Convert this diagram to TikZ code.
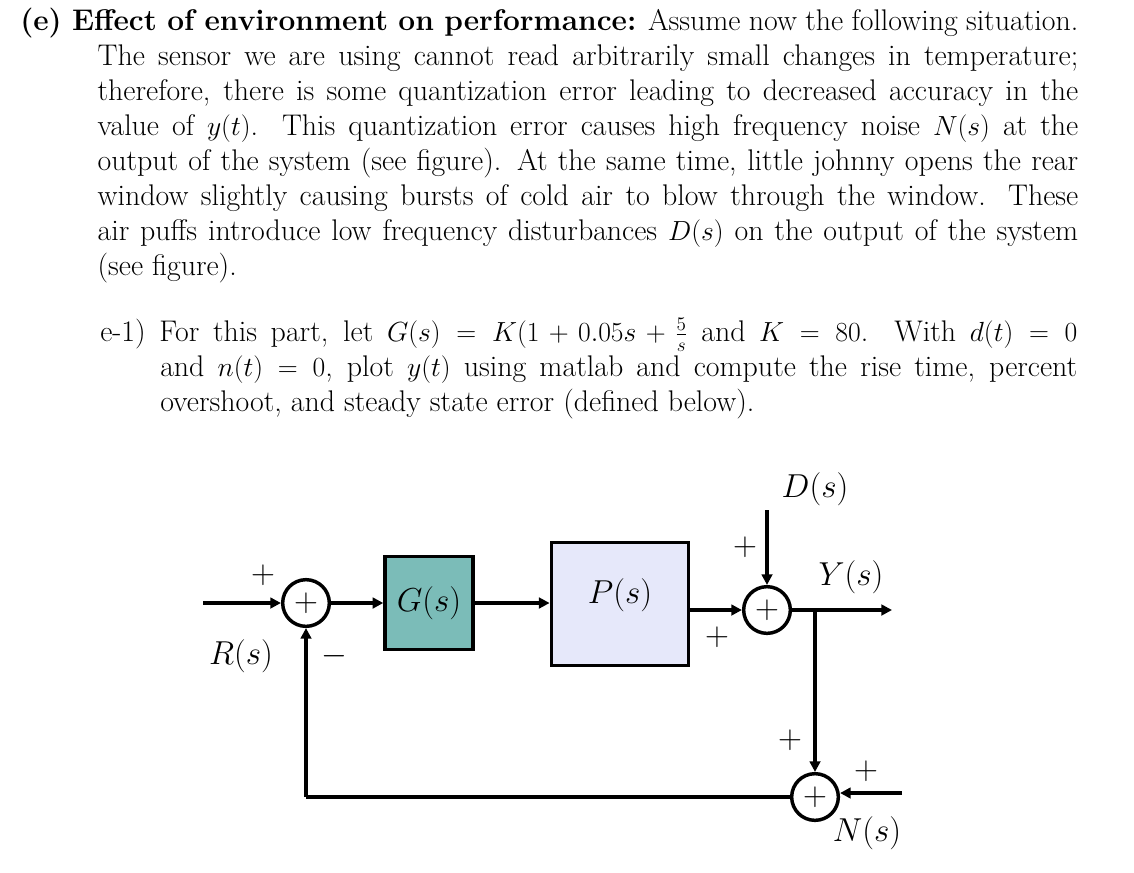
\documentclass[tikz,border=0pt]{standalone}
\usepackage{amsmath}
\usetikzlibrary{arrows.meta}
\definecolor{gteal}{HTML}{7BBCB8}
\definecolor{plav}{HTML}{E6E8FA}
\begin{document}
\begin{tikzpicture}[x=0.75pt,y=-0.75pt,
  every node/.style={inner sep=0pt},
  sum/.style={circle,draw,line width=2.6pt,minimum size=35pt},
  blk/.style={draw,line width=2.6pt},
  sig/.style={line width=2.8pt,-{Triangle[length=8pt,width=8pt]}},
  wire/.style={line width=2.8pt},
  lab/.style={font=\fontsize{24}{28}\selectfont},
  pm/.style={font=\fontsize{26}{28}\selectfont}]
\useasboundingbox (0,0) rectangle (1134,872);
% text
\node[anchor=north west,align=left] (txt) at (20,8) {\fontsize{22.4}{26.25}\selectfont
\parbox[t]{1058\dimexpr0.75pt}{\hangindent=58pt\hangafter=1\noindent\textbf{(e) Effect of environment on performance:} Assume now the following situation.\linebreak The sensor we are using cannot read arbitrarily small changes in temperature;\linebreak therefore, there is some quantization error leading to decreased accuracy in the\linebreak value of $y(t)$. This quantization error causes high frequency noise $N(s)$ at the\linebreak output of the system (see figure). At the same time, little johnny opens the rear\linebreak window slightly causing bursts of cold air to blow through the window. These\linebreak air puffs introduce low frequency disturbances $D(s)$ on the output of the system\linebreak (see figure).\par}};
\node[anchor=north west] (e1) at (100,318) {\fontsize{22.4}{26.25}\selectfont
\parbox[t]{977\dimexpr0.75pt}{\hangindent=45pt\hangafter=1\noindent e-1) For this part, let $G(s)=K(1+0.05s+\frac{5}{s}$ and $K=80$. With $d(t)=0$\linebreak and $n(t)=0$, plot $y(t)$ using matlab and compute the rise time, percent\linebreak overshoot, and steady state error (defined below).\par}};
% diagram
\node[sum] (s1) at (306,603) {};
\node[pm] at (s1) {$+$};
\node[blk,fill=gteal,minimum width=66pt,minimum height=70pt] (G) at (429,603) {};
\node[lab] at (G) {$G(s)$};
\node[blk,fill=plav,minimum width=103pt,minimum height=92pt] (P) at (620,604) {};
\node[lab] at (620,595) {$P(s)$};
\node[sum] (s2) at (767,610) {};
\node[pm] at (s2) {$+$};
\node[sum] (s3) at (815,797) {};
\node[pm] at (s3) {$+$};
\coordinate (rin) at (203,603);
\coordinate (din) at (767,510);
\coordinate (yout) at (892,610);
\coordinate (br) at (815,610);
\coordinate (nin) at (902,793);
\coordinate (fb) at (306,797);
\draw[sig] (rin) -- (s1.west);
\draw[sig] (s1.east) -- (G.west);
\draw[sig] (G.east) -- (G.east -| P.west);
\draw[sig] (P.east |- s2) -- (s2.west);
\draw[sig] (din) -- (s2.north);
\draw[sig] (s2.east) -- (yout);
\draw[sig] (br) -- (s3.north);
\draw[sig] (nin) -- (s3.east |- nin);
\draw[wire] (s3.west) -- (fb);
\draw[sig] (fb) -- (s1.south);
\node[pm] at (263,575) {$+$};
\node[lab] at (241,656) {$R(s)$};
\node[pm] at (334,656) {$-$};
\node[pm] at (745,547) {$+$};
\node[lab] at (815,489) {$D(s)$};
\node[lab] at (851,577) {$Y(s)$};
\node[pm] at (717,637) {$+$};
\node[pm] at (790,740) {$+$};
\node[pm] at (866,771) {$+$};
\node[lab] at (867,833) {$N(s)$};
\end{tikzpicture}
\end{document}
